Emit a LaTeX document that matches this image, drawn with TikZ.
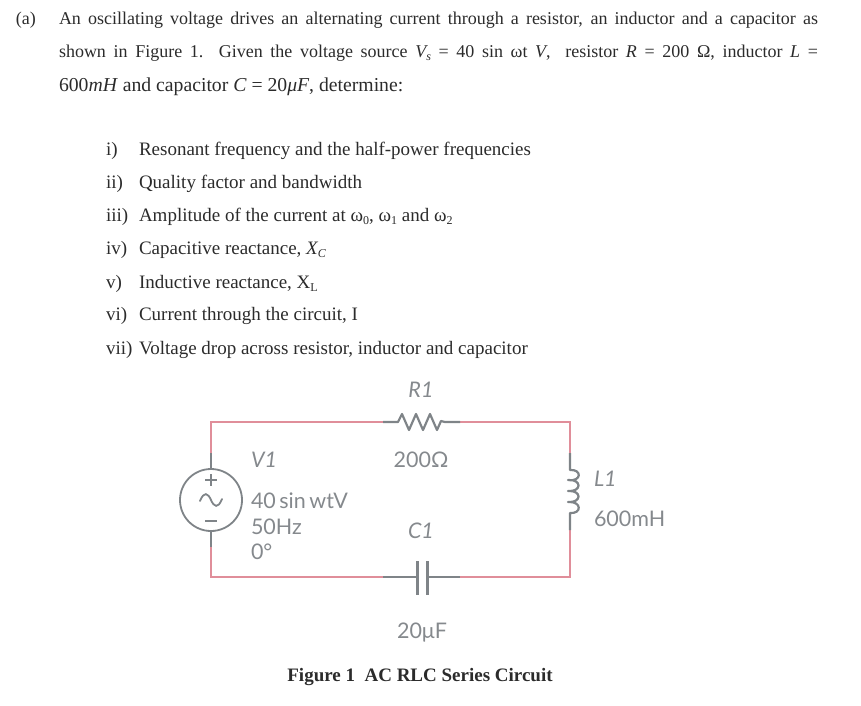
\documentclass[tikz,border=0pt]{standalone}
\usepackage{fontspec}
\setmainfont{Liberation Serif}
\newfontfamily\lato{Lato}
\newcommand{\sz}[1]{\fontsize{#1}{#1}\selectfont}
\newcommand{\lowsub}[1]{\raisebox{-3pt}{\sz{12}#1}}
\definecolor{ink}{HTML}{2B2B2B}
\definecolor{wirered}{HTML}{E08E9A}
\definecolor{wiregray}{HTML}{7F8488}
\definecolor{labelgray}{HTML}{85898D}
\tikzset{
  body/.style={anchor=base west,inner sep=0pt,outer sep=0pt,text=ink,font=\sz{18}},
  listtext/.style={body,font=\sz{19}},
  circlabel/.style={anchor=base,inner sep=0pt,outer sep=0pt,text=labelgray,font=\lato\sz{21.5}},
  circlabelw/.style={circlabel,anchor=base west},
  redwire/.style={draw=wirered,line width=2.6pt,line join=miter},
  graywire/.style={draw=wiregray,line width=2.2pt,line join=round}
}
\begin{document}
\begin{tikzpicture}[x=1pt,y=-1pt]
\useasboundingbox (0,0) rectangle (861,705);
% question text
\node[body] (qa) at (16,24) {(a)};
\node[body] (l1) at (59,24) {\makebox[759pt][s]{An oscillating voltage drives an alternating current through a resistor, an inductor and a capacitor as}};
\node[body] (l2) at (59,57) {\makebox[759pt][s]{shown in Figure 1. Given the voltage source \textit{V\lowsub{s}} = 40 sin ωt \textit{V},\hspace{7pt} resistor \textit{R} = 200 Ω, inductor \textit{L} =}};
\node[body,font=\sz{19.7}] (l3) at (59,91) {600\textit{mH} and capacitor \textit{C} = 20\textit{μF}, determine:};
% list
\node[listtext] (n1) at (106,155) {i)};
\node[listtext] (t1) at (139,155) {Resonant frequency and the half-power frequencies};
\node[listtext] (n2) at (106,188) {ii)};
\node[listtext] (t2) at (139,188) {Quality factor and bandwidth};
\node[listtext] (n3) at (106,221) {iii)};
\node[listtext] (t3) at (139,221) {Amplitude of the current at ω\lowsub{0}, ω\lowsub{1} and ω\lowsub{2}};
\node[listtext] (n4) at (106,254) {iv)};
\node[listtext] (t4) at (139,254) {Capacitive reactance, \textit{X\lowsub{C}}};
\node[listtext] (n5) at (106,288) {v)};
\node[listtext] (t5) at (139,288) {Inductive reactance, X\lowsub{L}};
\node[listtext] (n6) at (106,320) {vi)};
\node[listtext] (t6) at (139,320) {Current through the circuit, I};
\node[listtext] (n7) at (106,354) {vii)};
\node[listtext] (t7) at (139,354) {Voltage drop across resistor, inductor and capacitor};
% corners and component terminals
\coordinate (tl) at (211,422);
\coordinate (tr) at (570,422);
\coordinate (bl) at (211,577);
\coordinate (br) at (570,577);
\coordinate (rl) at (383,422);
\coordinate (rr) at (460,422);
\coordinate (cl) at (383,577);
\coordinate (cr) at (460,577);
\coordinate (lt) at (570,453);
\coordinate (lb) at (570,530);
\coordinate (vt) at (211,453);
\coordinate (vb) at (211,547);
% wires
\draw[redwire] (vt) -- (tl) -- (rl);
\draw[redwire] (rr) -- (tr) -- (lt);
\draw[redwire] (lb) -- (br) -- (cr);
\draw[redwire] (cl) -- (bl) -- (vb);
% source
\node[circle,draw=wiregray,line width=1.8pt,minimum size=62pt,inner sep=0pt,outer sep=0pt] (src) at (211,500) {};
\draw[graywire] (vt) -- (src.north);
\draw[graywire] (src.south) -- (vb);
\draw[wiregray,line width=2pt] (205,480) -- (217,480) (211,474) -- (211,486);
\draw[wiregray,line width=2pt] (205,521) -- (217,521);
\draw[wiregray,line width=1.8pt,line cap=round] (200,501) .. controls (204,491) and (208,493) .. (211,500) .. controls (214,507) and (218,509) .. (222,499);
% resistor
\coordinate (ra) at (398,422);
\coordinate (rb) at (445,422);
\draw[graywire] (rl) -- (ra) -- (402,414) -- (409,430) -- (416,414) -- (423,430) -- (430,414) -- (437,430) -- (441,421) -- (rb) -- (rr);
% capacitor
\coordinate (cp1) at (417,577);
\coordinate (cp2) at (427,577);
\draw[graywire] (cl) -- (cp1);
\draw[graywire] (cp2) -- (cr);
\draw[wiregray,line width=3pt] (417,561) -- (417,595);
\draw[wiregray,line width=3pt] (427,561) -- (427,595);
% inductor
\coordinate (la) at (570,470);
\coordinate (lc) at (570,513);
\draw[graywire] (lt) -- (la)
  .. controls (582,469) and (582,482) .. (568,480)
  .. controls (582,479) and (582,492) .. (568,491)
  .. controls (582,490) and (582,503) .. (568,502)
  .. controls (582,501) and (582,514) .. (lc)
  -- (lb);
% labels
\node[circlabel] (r1) at (421,397) {\textit{R1}};
\node[circlabel] (r2) at (421,467) {200Ω};
\node[circlabel] (c1) at (421,538) {\textit{C1}};
\node[circlabel] (c2) at (422,638) {20μF};
\node[circlabelw] (v1) at (251,467) {\textit{V1}};
\node[circlabelw] (v2) at (251,508) {40\hspace{3.5pt}sin\hspace{3.5pt}wtV};
\node[circlabelw] (v3) at (251,534) {50Hz};
\node[circlabelw] (v4) at (251,559) {0°};
\node[circlabelw] (l1a) at (594,486) {\textit{L1}};
\node[circlabelw] (l1b) at (594,526) {600mH};
% caption
\node[body,anchor=base,font=\bfseries\sz{19}] (fig) at (420,681) {Figure 1\ \ AC RLC Series Circuit};
\end{tikzpicture}
\end{document}
